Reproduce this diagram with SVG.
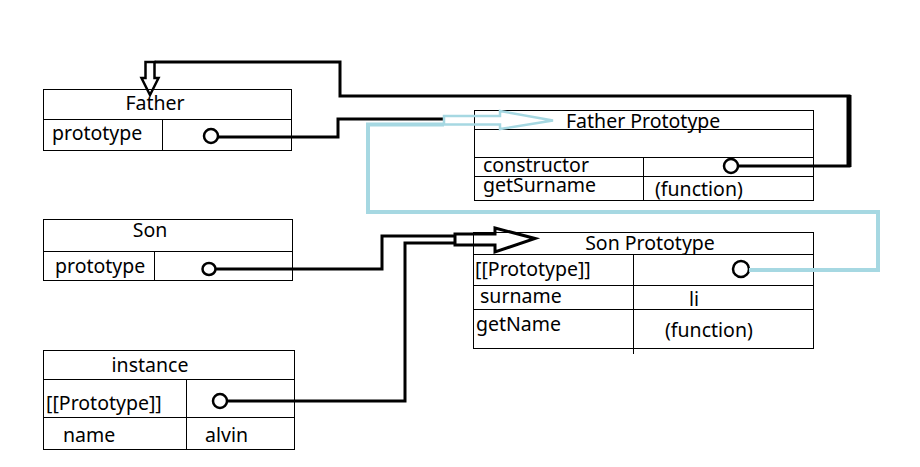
<svg xmlns="http://www.w3.org/2000/svg" width="920" height="467" viewBox="0 0 920 467">
<style>
.box{fill:#fff;stroke:#000;stroke-width:1}
.ln{stroke:#000;stroke-width:1;fill:none}
.t{font-family:"Noto Sans","Open Sans",sans-serif;font-size:19.5px;fill:#000}
.c{text-anchor:middle}
.k{fill:none;stroke:#000;stroke-width:3;stroke-linejoin:miter}
.b{fill:none;stroke:#a6d8e2;stroke-width:4}
.dot{fill:#fff;stroke:#000;stroke-width:2.5}
</style>
<rect width="920" height="467" fill="#fff"/>
<g id="father">
<rect class="box" x="43.5" y="89.5" width="248" height="61"/>
<path class="ln" d="M43 119.5 H291 M162.5 119 V150"/>
<text class="t c" x="155" y="110">Father</text>
<text class="t" x="52" y="140">prototype</text>
<ellipse class="dot" cx="211" cy="136" rx="7" ry="7"/>
</g>
<g id="father-prototype">
<rect class="box" x="474.5" y="110.5" width="339" height="90"/>
<path class="ln" d="M474 129.5 H813 M474 157.5 H813 M474 176.5 H813 M643.5 157 V200"/>
<text class="t" x="566" y="128">Father Prototype</text>
<text class="t" x="483" y="172">constructor</text>
<text class="t" x="483" y="192">getSurname</text>
<text class="t" x="655" y="196">(function)</text>
<ellipse class="dot" cx="731" cy="166" rx="7" ry="7"/>
</g>
<g id="son">
<rect class="box" x="43.5" y="219.5" width="249" height="61"/>
<path class="ln" d="M43 251.5 H292 M154.5 251 V280"/>
<text class="t c" x="150" y="237">Son</text>
<text class="t" x="55" y="273">prototype</text>
<ellipse class="dot" cx="209" cy="269" rx="6.5" ry="6"/>
</g>
<g id="son-prototype">
<rect class="box" x="473.5" y="232.5" width="340" height="116"/>
<path class="ln" d="M473 254.5 H813 M473 285.5 H813 M473 309.5 H813 M633.5 254 V354"/>
<text class="t c" x="650" y="250">Son Prototype</text>
<text class="t" x="475" y="276">[[Prototype]]</text>
<text class="t" x="480" y="303">surname</text>
<text class="t" x="476" y="331">getName</text>
<text class="t" x="689" y="306">li</text>
<text class="t" x="665" y="337">(function)</text>
<ellipse class="dot" cx="741" cy="269" rx="8" ry="8"/>
</g>
<g id="instance">
<rect class="box" x="43.5" y="350.5" width="251" height="99"/>
<path class="ln" d="M43 379.5 H295 M43 417.5 H295 M186.5 379 V449"/>
<text class="t c" x="150" y="372">instance</text>
<text class="t" x="46" y="410">[[Prototype]]</text>
<text class="t" x="63" y="442">name</text>
<text class="t" x="205" y="442">alvin</text>
<ellipse class="dot" cx="220" cy="401" rx="7" ry="7"/>
</g>
<g id="connectors">
<path class="b" d="M749 270 L878 270 L878 212 L368 212 L368 124.5 L444 124.5"/>
<path class="k" d="M738 166 L849 166 L849 96 L340 96 L340 62 L154.5 62"/>
<path d="M849 167 L849 95" stroke="#000" stroke-width="5" fill="none"/>
<path class="k" d="M218 137 L338 137 L338 119 L444 119"/>
<path class="k" d="M216 269 L382 269 L382 236 L455 236"/>
<path class="k" d="M227 401 L405 401 L405 243 L455 243"/>
<polygon points="145.5,62 154.5,62 154.5,78 158.5,78 150,95 141.5,78 145.5,78" fill="none" stroke="#000" stroke-width="2.5"/>
<polygon points="444,116 500,116 500,111 553,120.5 500,129 500,124.5 444,124.5" fill="none" stroke="#a6d8e2" stroke-width="2.5"/>
<polygon points="455,234 495,234 495,228 535,238.5 495,252 495,245 455,245" fill="none" stroke="#000" stroke-width="3"/>
</g>
</svg>
